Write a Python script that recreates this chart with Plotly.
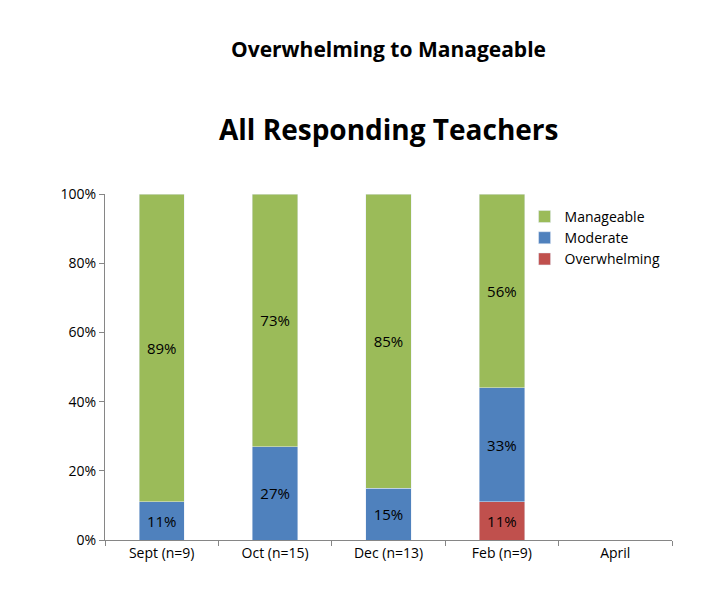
import plotly.graph_objects as go

categories = ["Sept (n=9)", "Oct (n=15)", "Dec (n=13)", "Feb (n=9)", "April"]
overwhelming = [None, None, None, 11, None]
moderate = [11, 27, 15, 33, None]
manageable = [89, 73, 85, 56, None]

def labels(vals):
    return [f"{v}%" if v else "" for v in vals]

fig = go.Figure()
for name, vals, color in [("Overwhelming", overwhelming, "#C0504D"),
                          ("Moderate", moderate, "#4F81BD"),
                          ("Manageable", manageable, "#9BBB59")]:
    fig.add_trace(go.Bar(x=categories, y=vals, name=name, marker_color=color,
                         text=labels(vals), textposition="inside", insidetextanchor="middle",
                         textfont=dict(size=15, color="black"), width=0.4))

T, B = 186, 61
fig.update_layout(
    barmode="stack", width=705, height=593, plot_bgcolor="white", paper_bgcolor="white",
    font=dict(family="Open Sans", size=14, color="black"),
    margin=dict(l=97, r=41, t=T, b=B),
    legend=dict(x=0.74, y=0.98, xanchor="left", yanchor="top", traceorder="reversed",
                font=dict(size=14), itemwidth=30, tracegroupgap=0),
    annotations=[
        dict(text="<b>Overwhelming to Manageable</b>", xref="paper", yref="paper", x=0.5,
             showarrow=False, font=dict(size=21)),
        dict(text="<b>All Responding Teachers</b>", xref="paper", yref="paper", x=0.5,
             showarrow=False, font=dict(size=28)),
    ],
    uniformtext=dict(mode="show", minsize=10),
)
ph = 593 - T - B
for a, py in zip(fig.layout.annotations, [41, 121]):
    a.y = (593 - B - py) / ph
    a.yanchor = "middle"
fig.update_yaxes(range=[0, 100], tickvals=[0, 20, 40, 60, 80, 100],
                 ticktext=["0%", "20%", "40%", "60%", "80%", "100%"],
                 showline=True, linecolor="#868686", ticks="outside", ticklen=5,
                 tickcolor="#868686", showgrid=False, zeroline=False)
fig.update_xaxes(showline=True, linecolor="#868686", ticks="outside", ticklen=5,
                 tickcolor="#868686", tickson="boundaries")
fig.write_html("out.html")
